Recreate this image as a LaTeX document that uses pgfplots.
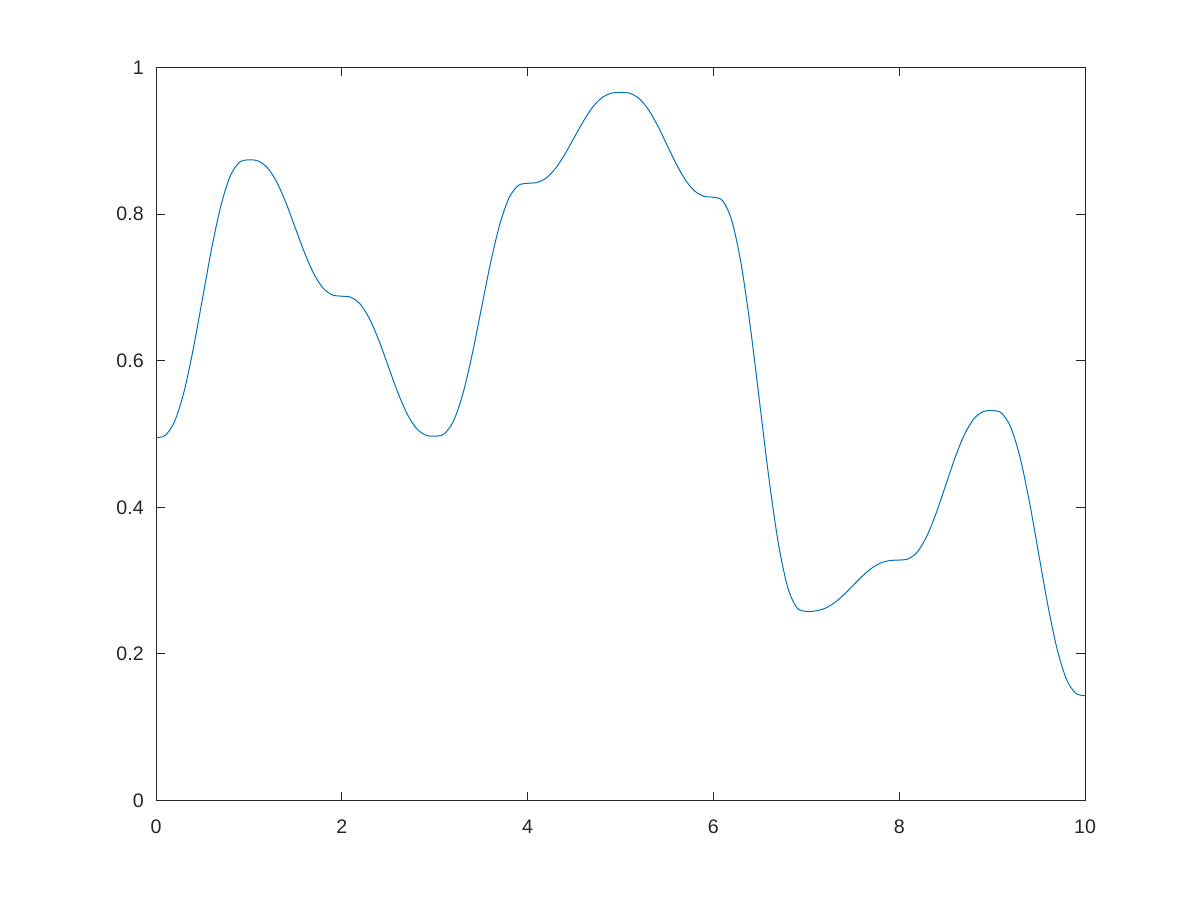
\documentclass[border=0pt]{standalone}
\usepackage{pgfplots}
\pgfplotsset{compat=1.18}
\usepackage{fontspec}
\setmainfont{Liberation Sans}
\definecolor{octblue}{rgb}{0,0.447,0.741}
\definecolor{axcol}{rgb}{0.15,0.15,0.15}
\begin{document}
\begin{tikzpicture}
\useasboundingbox (-78pt,-49.75pt) rectangle (522pt,400.25pt);
\begin{axis}[
  at={(0,0)}, anchor=south west,
  scale only axis,
  width=464.5pt, height=366.5pt,
  xmin=0, xmax=10, ymin=0, ymax=1,
  xtick={0,2,4,6,8,10},
  ytick={0,0.2,0.4,0.6,0.8,1},
  tick align=inside,
  major tick length=4.5pt,
  axis line style={color=axcol, line width=0.5pt},
  every tick/.style={color=axcol, line width=0.5pt},
  tick label style={font=\fontsize{9.8pt}{11.5pt}\selectfont, color=axcol},
  /pgf/number format/assume math mode=true,
  xticklabel style={yshift=-6.0pt},
  yticklabel style={xshift=-2.6pt},
]
\addplot[color=octblue, line width=0.5pt, smooth] coordinates {
(0,0.495) (0.1,0.4982) (0.2,0.5170) (0.3,0.5568) (0.4,0.6153) (0.5,0.6845) (0.6,0.7537) (0.7,0.8122) (0.8,0.8521) (0.9,0.8708)
(1,0.874) (1.1,0.8724) (1.2,0.8632) (1.3,0.8437) (1.4,0.8150) (1.5,0.781) (1.6,0.7470) (1.7,0.7183) (1.8,0.6988) (1.9,0.6896)
(2,0.688) (2.1,0.6864) (2.2,0.6769) (2.3,0.6569) (2.4,0.6274) (2.5,0.5925) (2.6,0.5576) (2.7,0.5282) (2.8,0.5081) (2.9,0.4986)
(3,0.497) (3.1,0.5000) (3.2,0.5170) (3.3,0.5533) (3.4,0.6065) (3.5,0.6695) (3.6,0.7325) (3.7,0.7857) (3.8,0.8220) (3.9,0.8391)
(4,0.842) (4.1,0.8431) (4.2,0.8492) (4.3,0.8622) (4.4,0.8814) (4.5,0.904) (4.6,0.9266) (4.7,0.9458) (4.8,0.9588) (4.9,0.9649)
(5,0.966) (5.1,0.9648) (5.2,0.9577) (5.3,0.9427) (5.4,0.9206) (5.5,0.8945) (5.6,0.8684) (5.7,0.8463) (5.8,0.8313) (5.9,0.8242)
(6,0.823) (6.1,0.8182) (6.2,0.7903) (6.3,0.7309) (6.4,0.6437) (6.5,0.5405) (6.6,0.4374) (6.7,0.3501) (6.8,0.2907) (6.9,0.2628)
(7,0.258) (7.1,0.2586) (7.2,0.2621) (7.3,0.2694) (7.4,0.2802) (7.5,0.293) (7.6,0.3058) (7.7,0.3166) (7.8,0.3240) (7.9,0.3274)
(8,0.328) (8.1,0.3298) (8.2,0.3398) (8.3,0.3613) (8.4,0.3928) (8.5,0.430) (8.6,0.4672) (8.7,0.4987) (8.8,0.5202) (8.9,0.5303)
(9,0.532) (9.1,0.5287) (9.2,0.5095) (9.3,0.4686) (9.4,0.4085) (9.5,0.3375) (9.6,0.2665) (9.7,0.2064) (9.8,0.1655) (9.9,0.1463)
(10,0.143)
};
\end{axis}
\end{tikzpicture}
\end{document}
